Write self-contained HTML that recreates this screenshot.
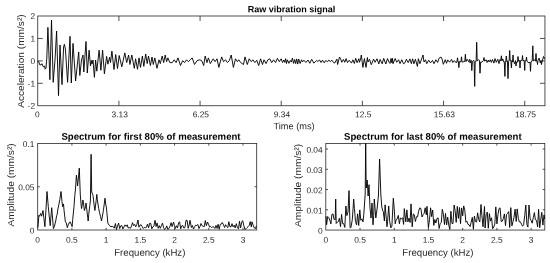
<!DOCTYPE html>
<html><head><meta charset="utf-8"><title>Vibration signal</title>
<style>
html,body{margin:0;padding:0;background:#fff;}
body{width:550px;height:263px;overflow:hidden;}
svg{display:block;}
</style></head><body>
<svg width="550" height="263" viewBox="0 0 550 263" font-family="Liberation Sans, Arial, sans-serif">
<rect x="0" y="0" width="550" height="263" fill="#fff"/>
<rect x="37.75" y="16.0" width="507.20" height="89.75" fill="none" stroke="#262626" stroke-width="0.8"/>
<path d="M118.91 105.75v-5M118.91 16.0v5M200.07 105.75v-5M200.07 16.0v5M281.23 105.75v-5M281.23 16.0v5M362.39 105.75v-5M362.39 16.0v5M443.55 105.75v-5M443.55 16.0v5M524.71 105.75v-5M524.71 16.0v5M37.75 38.44h5M544.95 38.44h-5M37.75 60.88h5M544.95 60.88h-5M37.75 83.31h5M544.95 83.31h-5" stroke="#262626" stroke-width="0.8" fill="none"/>
<rect x="37.7" y="143.4" width="219.00" height="86.60" fill="none" stroke="#262626" stroke-width="0.8"/>
<path d="M71.92 230.0v-2.2M71.92 143.4v2.2M106.14 230.0v-2.2M106.14 143.4v2.2M140.36 230.0v-2.2M140.36 143.4v2.2M174.57 230.0v-2.2M174.57 143.4v2.2M208.79 230.0v-2.2M208.79 143.4v2.2M243.01 230.0v-2.2M243.01 143.4v2.2M37.7 186.70h2.2M256.7 186.70h-2.2" stroke="#262626" stroke-width="0.8" fill="none"/>
<rect x="325.8" y="143.4" width="219.00" height="86.65" fill="none" stroke="#262626" stroke-width="0.8"/>
<path d="M360.02 230.05v-2.2M360.02 143.4v2.2M394.24 230.05v-2.2M394.24 143.4v2.2M428.46 230.05v-2.2M428.46 143.4v2.2M462.67 230.05v-2.2M462.67 143.4v2.2M496.89 230.05v-2.2M496.89 143.4v2.2M531.11 230.05v-2.2M531.11 143.4v2.2M325.8 149.05h2.2M544.8 149.05h-2.2M325.8 169.30h2.2M544.8 169.30h-2.2M325.8 189.55h2.2M544.8 189.55h-2.2M325.8 209.80h2.2M544.8 209.80h-2.2" stroke="#262626" stroke-width="0.8" fill="none"/>
<polyline points="37.8,61.6 38.7,61.4 39.6,64.6 41.0,65.0 41.9,63.7 43.3,66.9 44.7,66.0 45.1,69.2 46.0,68.2 46.8,58.0 47.9,27.4 49.9,79.7 51.5,20.0 53.2,82.3 55.0,60.0 56.6,31.0 58.5,95.6 60.0,45.0 62.0,84.6 63.6,47.0 64.4,44.3 65.4,49.0 67.6,82.3 70.0,36.3 71.3,83.0 73.0,43.4 75.6,81.0 78.7,52.0 79.8,75.5 81.5,60.0 83.0,55.0 83.8,72.0 86.0,41.5 87.3,73.0 89.1,50.2 90.5,66.0 91.3,60.5 92.0,64.0 93.0,60.0 94.4,77.3 95.6,60.0 96.8,71.2 99.1,50.2 100.9,70.3 102.6,50.2 104.4,73.8 106.6,56.4 107.9,64.2 109.6,57.2 110.5,62.5 111.9,51.1 114.0,69.5 115.7,54.6 117.5,68.6 119.2,55.5 121.8,66.8 123.3,60.0 124.8,52.9 126.7,62.6 128.6,55.0 129.9,64.5 131.8,55.0 134.3,68.3 135.6,58.8 137.5,69.3 139.0,57.9 140.5,67.4 142.4,56.0 143.8,66.4 145.7,54.0 147.2,63.6 148.5,56.0 150.4,65.5 152.0,57.0 153.3,64.5 154.8,57.9 157.0,68.3 159.0,59.8 160.3,63.6 162.2,56.0 163.7,62.6 165.2,55.0 166.6,61.7 167.9,57.9 169.8,62.6 172.3,62.6 174.2,59.8 176.1,62.6 178.0,57.9 180.5,65.5 182.7,60.7 184.6,62.6 186.5,59.8 188.4,61.7 190.3,59.8 192.2,57.9 194.5,64.5 197.0,60.7 199.8,59.8 201.7,60.7 203.7,65.5 205.2,56.0 207.0,62.6 208.4,57.9 210.3,63.6 213.2,58.8 215.0,61.7 217.0,58.8 218.9,67.4 220.2,62.0 221.7,56.9 223.5,61.7 225.5,59.8 227.4,62.6 229.3,60.7 231.2,55.0 233.4,67.4 235.5,58.8 237.4,61.7 238.8,59.8 240.7,62.6 243.5,64.5 245.0,56.9 247.3,64.5 249.2,58.8 251.1,61.7 253.0,59.8 254.9,62.6 256.8,60.3 258.7,65.5 260.6,58.8 262.5,64.5 264.0,59.8 266.0,63.6 267.9,59.8 269.8,58.8 271.7,62.6 273.6,59.8 275.5,62.6 277.4,58.4 279.3,61.7 281.2,58.8 282.5,62.5 283.8,60.0 284.8,62.4 285.6,58.7 286.5,63.5 287.4,59.8 288.9,63.3 290.3,60.5 291.3,62.1 292.4,58.1 293.6,63.4 294.7,59.5 295.7,63.6 296.7,58.9 297.7,64.1 298.7,59.0 300.1,63.5 301.6,59.8 302.5,61.9 303.9,60.2 305.9,62.5 308.0,60.0 309.8,63.3 311.7,59.3 313.8,63.1 315.0,62.1 316.7,60.4 317.9,61.5 319.6,60.0 321.0,62.5 322.5,60.2 324.2,62.8 325.7,60.5 327.6,61.7 328.8,60.2 330.4,61.6 331.8,60.1 333.7,62.8 334.7,63.0 336.9,59.1 337.6,64.5 339.5,57.0 340.4,58.4 341.8,62.3 343.4,59.4 344.8,62.3 346.1,58.6 347.5,62.6 349.2,60.3 351.5,63.1 352.9,59.8 354.4,63.5 355.7,58.3 357.1,62.7 358.9,58.7 359.4,62.3 360.6,59.1 361.3,55.0 362.9,67.4 364.4,58.5 366.0,67.4 367.4,57.5 368.0,62.0 369.5,59.3 371.3,64.7 373.6,59.1 375.1,62.3 377.0,58.8 378.8,63.9 380.1,59.4 382.2,63.7 383.7,58.4 385.8,64.0 387.5,58.6 389.0,62.1 390.0,63.4 391.1,58.4 391.9,62.9 392.5,58.4 393.0,63.7 395.2,58.5 396.7,62.3 398.6,59.7 400.0,63.6 401.8,59.7 403.5,63.8 405.0,62.7 406.4,59.2 408.2,62.6 409.9,58.9 411.4,63.7 412.6,58.8 413.9,63.8 415.4,59.2 417.4,66.4 418.4,58.7 419.9,63.7 421.6,59.0 423.0,55.0 424.0,62.0 425.5,59.8 426.7,63.7 428.7,60.2 430.5,62.9 432.5,60.4 434.0,63.7 435.9,59.8 437.6,62.4 439.0,58.3 441.0,57.0 442.1,59.1 443.3,64.3 445.3,59.7 446.5,63.3 447.7,59.9 449.6,62.2 451.6,59.4 452.8,62.5 454.4,60.6 456.0,62.8 456.9,62.1 457.5,57.8 458.1,62.0 458.3,61.8 458.9,67.6 459.4,61.5 460.9,62.0 461.5,56.8 462.1,62.1 463.1,61.9 464.8,61.3 465.4,54.2 465.9,61.6 467.2,59.2 468.7,61.8 469.8,59.3 470.0,63.0 471.2,60.3 471.8,70.6 472.4,61.7 473.6,60.2 474.1,61.1 474.7,86.4 475.2,61.7 476.1,61.5 476.7,42.3 477.2,60.8 478.6,59.8 479.4,60.3 480.0,73.2 480.6,62.1 482.0,62.2 483.4,60.5 484.0,57.5 484.6,61.1 486.2,59.8 487.1,62.5 488.3,60.1 489.1,61.9 490.3,59.8 491.3,62.4 492.5,59.5 493.9,63.1 495.0,58.6 496.3,62.3 497.8,59.3 499.0,63.6 500.1,59.4 500.8,60.9 501.4,55.8 501.9,60.8 502.8,58.9 503.7,61.9 504.3,61.7 504.9,76.4 505.4,62.2 505.8,60.7 506.3,56.0 506.9,61.5 507.4,60.8 508.0,78.6 508.6,61.3 509.1,61.0 509.7,50.5 510.2,60.5 510.8,60.5 511.4,67.8 511.9,60.6 512.5,62.0 513.0,55.0 513.5,61.2 514.6,63.8 515.5,60.6 516.0,66.0 516.5,62.0 517.5,62.2 518.0,56.5 518.5,61.1 519.5,60.5 520.0,68.0 520.5,60.6 522.0,60.4 522.5,55.5 523.0,60.9 524.2,60.4 524.7,70.4 525.2,60.7 526.0,60.7 526.5,57.0 527.0,61.3 529.0,63.0 530.0,62.0 530.5,71.3 531.0,61.7 532.2,61.0 532.8,45.8 533.3,61.0 534.6,59.8 535.5,61.2 536.0,53.5 536.5,61.0 537.0,60.9 537.5,64.5 538.0,60.3 539.1,58.1 540.3,62.9 541.0,60.8 541.5,64.5 542.0,62.1 543.5,56.5 544.6,59.0" fill="none" stroke="#000" stroke-width="0.92" stroke-linejoin="round"/>
<polyline points="37.9,227.6 38.4,222.0 38.8,215.3 39.5,216.3 40.7,213.4 41.6,216.2 43.0,210.5 43.8,217.5 44.9,226.7 45.9,210.9 47.0,191.5 48.3,206.7 49.1,215.0 50.2,225.7 51.3,212.4 51.7,207.7 52.3,214.7 53.4,228.6 54.5,226.2 55.9,220.0 56.6,215.7 57.3,214.0 57.7,210.0 58.8,204.8 59.8,199.6 61.0,191.5 62.0,201.7 62.6,206.7 63.0,205.3 63.5,203.9 64.1,210.9 65.4,221.9 66.3,222.9 67.3,227.6 68.4,224.1 68.8,224.0 69.5,222.2 70.2,221.9 71.6,225.2 72.1,226.7 72.7,219.5 74.0,206.7 74.8,195.4 75.4,190.0 75.9,182.8 76.4,175.2 77.0,180.2 77.6,186.0 78.0,181.8 78.4,178.0 79.3,168.1 80.3,195.0 81.2,205.7 81.6,208.6 82.3,203.9 82.9,200.0 83.4,202.4 84.4,210.5 85.5,206.9 86.0,203.0 86.6,207.9 87.7,217.4 88.2,221.0 88.7,214.5 89.8,205.5 90.4,201.0 91.1,154.3 91.7,192.0 93.0,195.3 94.1,205.1 94.9,210.5 96.2,200.4 96.8,194.4 97.3,199.4 98.7,208.6 99.4,212.2 100.5,216.3 101.5,221.0 102.6,215.0 103.4,210.5 105.0,198.2 105.8,205.0 106.3,206.7 106.9,212.7 107.8,222.9 109.3,225.5 110.1,226.2 111.0,226.7 112.2,226.3 113.3,226.8 114.3,228.2 115.4,223.5 116.5,229.5 117.5,226.1 118.6,223.1 119.7,228.6 120.8,225.8 121.8,225.5 122.9,229.0 124.0,226.8 125.0,224.9 126.1,226.4 127.2,224.8 128.2,228.0 129.3,227.5 130.4,228.3 131.5,226.1 132.5,222.7 133.6,225.6 134.7,224.4 135.7,226.8 136.8,224.6 138.0,220.0 138.9,227.2 140.0,225.1 141.1,224.8 142.2,226.6 143.2,228.5 144.3,227.4 145.4,227.7 146.4,227.3 147.5,224.1 148.6,227.8 149.7,223.2 150.7,223.3 151.8,228.8 152.9,226.8 153.9,226.2 155.0,220.3 156.1,226.5 157.1,222.9 158.2,228.3 159.3,225.6 160.3,228.3 161.4,225.7 162.5,223.1 163.6,227.7 164.6,229.5 165.7,228.6 166.8,225.9 167.8,229.3 168.9,228.6 170.0,226.2 171.1,222.7 172.1,226.6 173.5,222.0 174.3,225.3 175.3,228.5 176.4,225.7 177.5,227.9 178.7,222.5 179.6,221.9 180.7,228.8 181.8,225.8 182.8,225.5 183.9,228.1 185.0,227.4 186.0,220.4 187.1,220.4 188.2,228.3 189.2,224.9 190.0,220.3 191.4,227.5 192.4,225.5 193.5,229.0 194.6,226.8 195.7,225.1 196.7,225.6 197.8,224.4 198.9,228.5 199.9,226.9 201.0,223.5 202.1,225.7 203.2,226.4 204.2,226.7 205.3,220.6 206.4,225.7 207.5,222.0 208.5,224.2 209.6,227.0 210.6,226.5 211.7,227.7 212.8,226.4 213.8,227.1 214.9,228.5 216.0,225.4 217.1,228.4 218.1,224.3 219.2,229.2 220.3,224.3 221.3,224.1 222.3,222.5 223.5,224.9 224.6,227.5 225.6,224.7 226.7,226.5 227.8,227.6 228.8,221.7 229.9,226.7 231.0,226.8 232.0,223.6 233.1,226.8 234.2,225.2 235.2,227.9 236.3,223.7 237.4,227.4 238.5,228.9 239.5,221.2 240.6,227.9 241.7,222.2 242.7,220.6 243.8,225.5 244.9,229.4 245.9,228.8 247.0,227.7 248.1,226.7 249.2,225.5 250.2,221.6 251.3,226.9 252.0,221.8 253.4,225.8 254.5,228.2 255.6,228.5 256.3,226.0" fill="none" stroke="#000" stroke-width="0.92" stroke-linejoin="round"/>
<polyline points="326.0,216.2 326.6,224.7 327.7,216.5 328.7,217.5 329.8,220.0 330.9,223.9 331.9,214.4 333.0,214.0 334.1,219.5 335.2,219.6 335.7,199.1 336.2,223.5 337.6,221.9 338.4,221.5 339.4,218.3 340.5,226.7 341.6,214.4 342.6,223.6 343.7,223.6 344.8,227.4 345.9,206.0 346.9,215.6 348.0,212.1 349.0,190.6 350.1,227.7 350.9,227.6 352.3,219.7 353.7,199.1 354.4,208.4 355.5,221.6 356.6,224.9 357.6,213.8 358.7,225.5 359.8,209.9 360.8,220.3 361.9,218.9 363.0,221.9 363.8,214.3 365.2,194.0 365.7,143.4 366.2,188.0 367.2,180.0 368.1,196.0 369.0,184.7 370.0,208.0 371.0,218.1 372.0,203.0 373.0,224.8 373.7,215.3 374.3,199.0 375.8,218.0 377.2,208.0 378.4,196.0 379.6,159.0 380.8,194.0 381.8,207.0 382.8,211.0 383.3,211.6 384.4,221.0 385.1,204.8 387.0,226.7 387.6,221.3 388.7,206.0 389.7,221.3 390.8,227.9 391.9,226.1 393.3,198.2 394.0,206.0 395.2,223.8 396.1,219.8 397.2,218.9 398.3,215.4 399.4,223.8 400.4,218.0 401.5,218.8 402.6,217.7 403.6,224.4 404.3,208.6 405.8,221.9 406.9,209.9 407.9,221.9 409.0,218.1 410.1,222.5 411.0,203.9 412.2,226.8 413.3,213.9 414.3,214.8 415.4,221.5 416.5,216.7 417.6,216.8 418.6,211.2 419.7,207.9 420.9,208.6 422.0,217.0 423.1,214.7 424.1,213.5 425.2,207.8 426.3,214.8 427.0,206.3 428.4,227.7 429.5,219.6 430.6,207.8 431.6,216.6 432.7,210.0 433.8,225.4 434.8,219.5 435.9,223.0 437.0,218.4 438.1,217.9 439.1,228.5 440.2,223.5 441.3,222.5 442.3,209.3 443.4,214.2 444.5,224.5 445.5,213.4 446.6,224.9 447.7,217.1 448.8,225.2 449.8,229.4 450.9,211.2 452.0,223.6 453.0,223.5 454.1,205.0 455.2,211.2 456.2,222.3 457.3,206.4 458.4,218.4 459.5,207.5 460.5,223.7 461.6,207.9 462.7,215.8 463.7,205.9 464.8,210.3 465.9,222.2 466.9,221.2 468.0,224.4 469.1,224.8 470.1,226.6 471.2,222.1 472.3,217.4 473.4,229.2 474.4,216.0 475.5,221.6 476.6,222.0 477.6,212.8 478.7,219.4 479.8,221.9 481.0,204.5 481.9,215.5 483.0,226.8 484.5,206.5 485.1,228.0 486.2,214.5 487.3,212.1 488.3,228.2 489.4,213.6 490.5,221.1 491.6,217.8 492.6,228.7 493.7,227.1 494.8,224.1 495.8,206.9 496.9,223.9 498.0,214.4 499.0,208.6 500.1,207.9 501.2,221.5 502.2,221.3 503.3,218.7 504.4,213.9 505.5,225.6 506.5,214.6 507.6,213.4 508.7,211.6 509.7,227.5 510.8,207.6 511.9,225.9 513.0,221.5 514.0,217.2 515.1,209.2 516.2,221.5 517.2,208.9 518.3,218.3 519.4,222.0 520.4,221.9 521.5,224.2 522.6,226.2 523.6,224.7 524.7,215.8 525.8,205.0 526.9,224.5 527.9,227.1 529.0,205.0 530.1,218.5 531.1,220.5 532.2,223.2 533.3,217.5 534.4,212.6 535.4,219.8 536.5,220.3 537.6,226.9 538.6,209.3 539.7,227.6 540.8,219.2 541.8,212.3 542.9,225.1 544.0,214.9 544.7,219.0" fill="none" stroke="#000" stroke-width="0.92" stroke-linejoin="round"/>
<text transform="translate(291.50 12.20) rotate(0.03)" font-size="9.0" text-anchor="middle" fill="#000" font-weight="bold">Raw vibration signal</text>
<text transform="translate(37.30 117.36) rotate(0.03)" font-size="8.4" text-anchor="middle" fill="#262626">0</text>
<text transform="translate(119.71 117.36) rotate(0.03)" font-size="8.4" text-anchor="middle" fill="#262626">3.13</text>
<text transform="translate(200.87 117.36) rotate(0.03)" font-size="8.4" text-anchor="middle" fill="#262626">6.25</text>
<text transform="translate(282.03 117.36) rotate(0.03)" font-size="8.4" text-anchor="middle" fill="#262626">9.34</text>
<text transform="translate(363.19 117.36) rotate(0.03)" font-size="8.4" text-anchor="middle" fill="#262626">12.5</text>
<text transform="translate(444.35 117.36) rotate(0.03)" font-size="8.4" text-anchor="middle" fill="#262626">15.63</text>
<text transform="translate(525.51 117.36) rotate(0.03)" font-size="8.4" text-anchor="middle" fill="#262626">18.75</text>
<text transform="translate(35.05 19.11) rotate(0.03)" font-size="8.4" text-anchor="end" fill="#262626">2</text>
<text transform="translate(35.05 41.54) rotate(0.03)" font-size="8.4" text-anchor="end" fill="#262626">1</text>
<text transform="translate(35.05 63.98) rotate(0.03)" font-size="8.4" text-anchor="end" fill="#262626">0</text>
<text transform="translate(35.05 86.42) rotate(0.03)" font-size="8.4" text-anchor="end" fill="#262626">-1</text>
<text transform="translate(35.05 108.86) rotate(0.03)" font-size="8.4" text-anchor="end" fill="#262626">-2</text>
<text transform="translate(294.05 129.30) rotate(0.03)" font-size="9.25" text-anchor="middle" fill="#262626">Time (ms)</text>
<text transform="translate(24.30 61.10) rotate(-90) scale(1 0.86)" x="0" y="0" font-size="10.15" text-anchor="middle" fill="#262626">Acceleration (mm/s²)</text>
<text transform="translate(150.95 139.70) rotate(0.03)" font-size="9.6" text-anchor="middle" fill="#000" font-weight="bold">Spectrum for first 80% of measurement</text>
<text transform="translate(37.70 242.81) rotate(0.03)" font-size="8.4" text-anchor="middle" fill="#262626">0</text>
<text transform="translate(71.92 242.81) rotate(0.03)" font-size="8.4" text-anchor="middle" fill="#262626">0.5</text>
<text transform="translate(106.14 242.81) rotate(0.03)" font-size="8.4" text-anchor="middle" fill="#262626">1</text>
<text transform="translate(140.36 242.81) rotate(0.03)" font-size="8.4" text-anchor="middle" fill="#262626">1.5</text>
<text transform="translate(174.57 242.81) rotate(0.03)" font-size="8.4" text-anchor="middle" fill="#262626">2</text>
<text transform="translate(208.79 242.81) rotate(0.03)" font-size="8.4" text-anchor="middle" fill="#262626">2.5</text>
<text transform="translate(243.01 242.81) rotate(0.03)" font-size="8.4" text-anchor="middle" fill="#262626">3</text>
<text transform="translate(34.50 147.01) rotate(0.03)" font-size="8.4" text-anchor="end" fill="#262626">0.1</text>
<text transform="translate(34.50 190.31) rotate(0.03)" font-size="8.4" text-anchor="end" fill="#262626">0.05</text>
<text transform="translate(34.50 233.61) rotate(0.03)" font-size="8.4" text-anchor="end" fill="#262626">0</text>
<text transform="translate(149.80 255.70) rotate(0.03)" font-size="9.63" text-anchor="middle" fill="#262626">Frequency (kHz)</text>
<text transform="translate(13.90 184.90) rotate(-90) scale(1 0.86)" x="0" y="0" font-size="10.2" text-anchor="middle" fill="#262626">Amplitude (mm/s²)</text>
<text transform="translate(432.80 139.70) rotate(0.03)" font-size="9.6" text-anchor="middle" fill="#000" font-weight="bold">Spectrum for last 80% of measurement</text>
<text transform="translate(325.80 242.81) rotate(0.03)" font-size="8.4" text-anchor="middle" fill="#262626">0</text>
<text transform="translate(360.02 242.81) rotate(0.03)" font-size="8.4" text-anchor="middle" fill="#262626">0.5</text>
<text transform="translate(394.24 242.81) rotate(0.03)" font-size="8.4" text-anchor="middle" fill="#262626">1</text>
<text transform="translate(428.46 242.81) rotate(0.03)" font-size="8.4" text-anchor="middle" fill="#262626">1.5</text>
<text transform="translate(462.67 242.81) rotate(0.03)" font-size="8.4" text-anchor="middle" fill="#262626">2</text>
<text transform="translate(496.89 242.81) rotate(0.03)" font-size="8.4" text-anchor="middle" fill="#262626">2.5</text>
<text transform="translate(531.11 242.81) rotate(0.03)" font-size="8.4" text-anchor="middle" fill="#262626">3</text>
<text transform="translate(322.70 152.66) rotate(0.03)" font-size="8.4" text-anchor="end" fill="#262626">0.04</text>
<text transform="translate(322.70 172.91) rotate(0.03)" font-size="8.4" text-anchor="end" fill="#262626">0.03</text>
<text transform="translate(322.70 193.16) rotate(0.03)" font-size="8.4" text-anchor="end" fill="#262626">0.02</text>
<text transform="translate(322.70 213.41) rotate(0.03)" font-size="8.4" text-anchor="end" fill="#262626">0.01</text>
<text transform="translate(322.70 233.66) rotate(0.03)" font-size="8.4" text-anchor="end" fill="#262626">0</text>
<text transform="translate(437.90 255.70) rotate(0.03)" font-size="9.63" text-anchor="middle" fill="#262626">Frequency (kHz)</text>
<text transform="translate(300.70 185.45) rotate(-90) scale(1 0.86)" x="0" y="0" font-size="10.2" text-anchor="middle" fill="#262626">Amplitude (mm/s²)</text>
</svg>
</body></html>
